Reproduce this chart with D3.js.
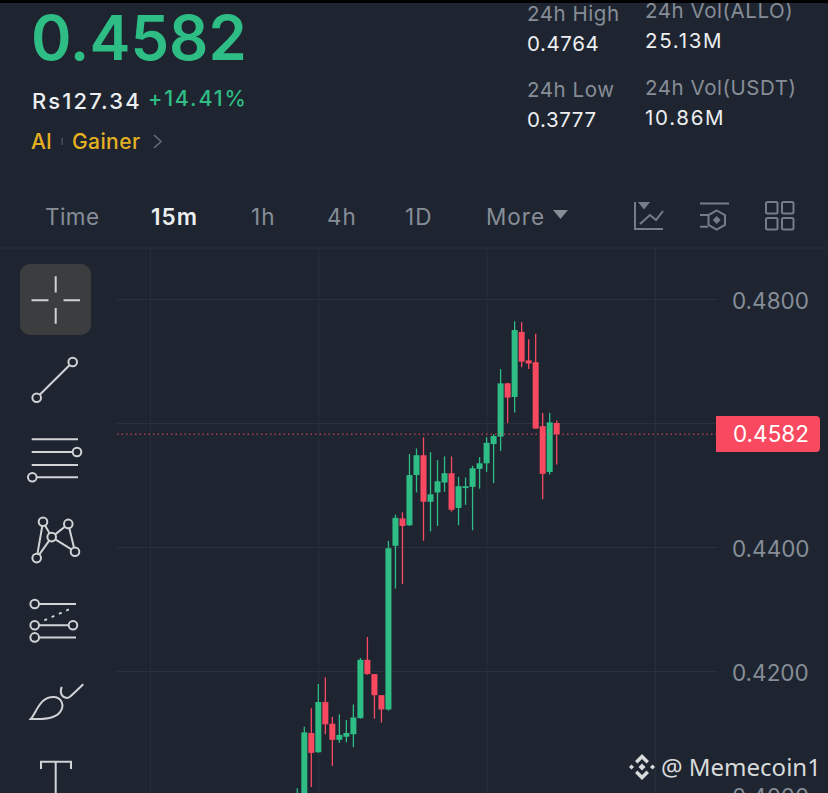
<!DOCTYPE html>
<html>
<head>
<meta charset="utf-8">
<script src="https://cdn.jsdelivr.net/npm/d3@7"></script>
<style>
html, body { margin: 0; padding: 0; background: #1e2530; overflow: hidden; }
svg { display: block; }
text { font-family: Inter, "Noto Sans", sans-serif; }
</style>
</head>
<body>
<svg id="chart" width="828" height="793"></svg>
<script>
// candle values, oldest first
var opens  = [0.3984,0.3992,0.4100,0.4069,0.4150,0.4115,0.4089,0.4094,0.4098,0.4124,0.4218,0.4195,0.4161,0.4138,0.4402,0.4446,0.4435,0.4516,0.4548,0.4473,0.4488,0.4504,0.4519,0.4463,0.4495,0.4497,0.4526,0.4535,0.4566,0.4578,0.4664,0.4642,0.4747,0.4701,0.4698,0.4595,0.4521,0.4600];
var highs  = [0.4011,0.4110,0.4140,0.4179,0.4190,0.4126,0.4130,0.4121,0.4146,0.4221,0.4255,0.4195,0.4161,0.4410,0.4452,0.4456,0.4550,0.4559,0.4577,0.4553,0.4540,0.4546,0.4546,0.4513,0.4512,0.4531,0.4545,0.4577,0.4582,0.4687,0.4665,0.4764,0.4763,0.4735,0.4744,0.4616,0.4616,0.4604];
var lows   = [0.3976,0.3984,0.4013,0.4068,0.4098,0.4047,0.4084,0.4085,0.4077,0.4123,0.4194,0.4123,0.4117,0.4136,0.4333,0.4340,0.4434,0.4488,0.4410,0.4425,0.4434,0.4489,0.4457,0.4435,0.4468,0.4427,0.4494,0.4521,0.4503,0.4555,0.4600,0.4617,0.4690,0.4687,0.4591,0.4477,0.4517,0.4533];
var closes = [0.3998,0.4101,0.4068,0.4150,0.4114,0.4089,0.4097,0.4100,0.4125,0.4218,0.4195,0.4161,0.4138,0.4398,0.4447,0.4434,0.4516,0.4548,0.4473,0.4485,0.4506,0.4519,0.4460,0.4498,0.4498,0.4527,0.4535,0.4568,0.4579,0.4664,0.4641,0.4750,0.4699,0.4696,0.4591,0.4518,0.4601,0.4582];
var priceTicks = [0.48, 0.46, 0.44, 0.42, 0.40];
var timeGrid = [-21, 3, 27, 51]; // candle index of the vertical grid lines
var lastPrice = 0.4582;
var tabs = ["Time", "15m", "1h", "4h", "1D", "More"];
var tabX = [45, 151, 251, 327, 405, 486];
var statLabels = ["24h High", "24h Vol(ALLO)", "24h Low", "24h Vol(USDT)"];
var statValues = ["0.4764", "25.13M", "0.3777", "10.86M"];

var GREEN = "#2ebd85", RED = "#f84960", GREY = "#868d97", GRID = "#2a313c", ICON = "#d0d2d5", ICON2 = "#767d88";

var svg = d3.select("#chart");
var x = d3.scaleLinear().domain([0, closes.length - 1]).range([297.3, 556.7]);
var y = d3.scaleLinear().domain([0.40, 0.48]).range([795, 299]);

function label(txt, px, py, size, color, weight, spacing) {
  return svg.append("text").attr("x", px).attr("y", py)
    .attr("font-size", size).attr("fill", color)
    .attr("font-weight", weight || 400)
    .attr("letter-spacing", spacing || 0).text(txt);
}

// header
label("0.4582", 31, 60, 61.5, GREEN, 600);
label("Rs127.34", 32, 109, 22, "#eceef0", 500, 2.1);
label("+14.41%", 148, 106, 21.5, GREEN, 500, 1.8);
label("AI", 31, 149, 21, "#e5b021", 500);
svg.append("rect").attr("x", 61.5).attr("y", 138).attr("width", 1.5).attr("height", 7).attr("fill", "#4a505a");
label("Gainer", 72, 149, 21, "#e5b021", 500, 0.4);
svg.append("path").attr("d", "M154,135L161,141.5L154,148").attr("fill", "none").attr("stroke", "#666c76").attr("stroke-width", 1.6);

var statX = [527, 645, 527, 645];
var statY = [21, 18, 97, 95];
statLabels.forEach(function(s, i) {
  label(s, statX[i], statY[i], 20.5, GREY, 400, 0.55);
  label(statValues[i], statX[i], statY[i] + 30, 20.5, "#eceef0", 400, i % 2 ? 1.7 : 0.6);
});
svg.append("rect").attr("width", 828).attr("height", 3).attr("fill", "#000");

// interval tabs
tabs.forEach(function(t, i) {
  label(t, tabX[i], 225, 22.5, i == 1 ? "#eceef0" : GREY, i == 1 ? 600 : 400, i == 0 ? 0.4 : 1);
});
svg.append("path").attr("d", "M553,210H568L560.5,219Z").attr("fill", GREY);
svg.append("line").attr("x1", 0).attr("x2", 828).attr("y1", 248).attr("y2", 248).attr("stroke", GRID);

// top right icons
var topIcons = svg.append("g").attr("fill", "none").attr("stroke", ICON2).attr("stroke-width", 2);
topIcons.append("path").attr("d", "M635,202V229H663");
topIcons.append("path").attr("d", "M640,224L650,215L656,220L663,211");
topIcons.append("path").attr("d", "M640,203H648L644,208Z").attr("fill", ICON2);
topIcons.append("path").attr("d", "M700,203.5H729M700,215H708M700,226.7H708");
topIcons.append("path").attr("d", "M716.7,210.5L725,215.2V224.8L716.7,229.5L708.5,224.8V215.2Z");
topIcons.append("path").attr("d", "M716.7,217.5L719.2,220L716.7,222.5L714.2,220Z").attr("fill", ICON2);
[[766, 202], [782, 202], [766, 218], [782, 218]].forEach(function(p) {
  topIcons.append("rect").attr("x", p[0]).attr("y", p[1]).attr("width", 11.5).attr("height", 11.5).attr("rx", 1.5);
});

// grid
svg.append("g").attr("transform", "translate(0,248)")
  .call(d3.axisBottom(x).tickValues(timeGrid).tickSize(545).tickFormat(""))
  .call(function(g) { g.select(".domain").remove(); })
  .selectAll("line").attr("stroke", GRID);

var yAxis = svg.append("g").attr("transform", "translate(117,0)")
  .call(d3.axisRight(y).tickValues(priceTicks).tickSize(600).tickPadding(15).tickFormat(d3.format(".4f")));
yAxis.select(".domain").remove();
yAxis.selectAll("line").attr("stroke", GRID);
yAxis.selectAll("text").attr("fill", GREY).attr("font-size", 22.5).attr("font-family", "Inter, sans-serif").attr("dy", "0.4em");

// candles
var candles = svg.append("g").selectAll("g").data(closes).join("g");
candles.append("line")
  .attr("x1", function(d, i) { return x(i); })
  .attr("x2", function(d, i) { return x(i); })
  .attr("y1", function(d, i) { return y(highs[i]); })
  .attr("y2", function(d, i) { return y(lows[i]); })
  .attr("stroke-width", 1.3)
  .attr("stroke", function(d, i) { return d >= opens[i] ? GREEN : RED; });
candles.append("rect")
  .attr("x", function(d, i) { return x(i) - 3; })
  .attr("width", 6)
  .attr("y", function(d, i) { return y(Math.max(d, opens[i])); })
  .attr("height", function(d, i) { return Math.max(1, Math.abs(y(d) - y(opens[i]))); })
  .attr("fill", function(d, i) { return d >= opens[i] ? GREEN : RED; });

// last price line and tag
svg.append("line").attr("x1", 117).attr("x2", 716).attr("y1", y(lastPrice)).attr("y2", y(lastPrice))
  .attr("stroke", RED).attr("stroke-width", 1).attr("stroke-dasharray", "1.5 3");
svg.append("path").attr("d", "M716,416H816a4,4 0 0 1 4,4V448a4,4 0 0 1 -4,4H716Z").attr("fill", RED);
label(d3.format(".4f")(lastPrice), 733, 442, 22.5, "#fff");

// drawing tools
svg.append("rect").attr("x", 20).attr("y", 264).attr("width", 71).attr("height", 71).attr("rx", 10).attr("fill", "#3c3d3f");
var tools = svg.append("g").attr("fill", "none").attr("stroke", ICON).attr("stroke-width", 2);
tools.append("path").attr("d", "M55.7,276.3V292.6M55.7,308V323.8M31.5,300.3H48.5M63.5,300.3H80");
function dot(cx, cy) {
  tools.append("circle").attr("cx", cx).attr("cy", cy).attr("r", 4.3).attr("fill", "#1e2530");
}
tools.append("path").attr("d", "M36.7,397.7L72.7,362");
dot(72.7, 362); dot(36.7, 397.7);
tools.append("path").attr("d", "M31.7,439.2H78M31.7,452H73M31.7,465H78M37,477.3H78");
dot(77, 452); dot(32.3, 477.3);
tools.append("path").attr("d", "M43,521.8L36.7,558.1L51.7,537.1L43,521.8M51.7,537.1L68.3,523.9L75,551.7L51.7,537.1");
dot(43, 521.8); dot(68.3, 523.9); dot(51.7, 537.1); dot(75, 551.7); dot(36.7, 558.1);
tools.append("path").attr("d", "M34.7,604H76M34.7,625.2H73M34.7,637.4H76");
tools.append("path").attr("d", "M44.3,620.4L71.7,608.1").attr("stroke-dasharray", "3 5");
dot(34.7, 604); dot(34.7, 625.2); dot(73, 625.2); dot(34.7, 637.4);
tools.append("path").attr("d", "M30.7,719C36.7,712 40,696.9 53.3,696.9C61.7,696.9 65,705.5 60,712.2C55,719 43.3,719 30.7,719Z");
tools.append("path").attr("d", "M61.7,686.9C59.5,692.5 61.5,697.5 67,698.1C69,698.1 70,697 83.3,684.3");
tools.append("path").attr("d", "M41,769V761.8H71V769M55.7,761.8V793");

// watermark
var mark = svg.append("g").attr("transform", "translate(642,767)").attr("fill", "#d9dadb");
mark.append("path").attr("d", "M0,-13L7,-6L4.5,-3.5L0,-8L-4.5,-3.5L-7,-6Z");
mark.append("path").attr("d", "M0,13L7,6L4.5,3.5L0,8L-4.5,3.5L-7,6Z");
mark.append("path").attr("d", "M0,-3.5L3.5,0L0,3.5L-3.5,0Z");
mark.append("path").attr("d", "M-13,0L-10.5,-2.5L-8,0L-10.5,2.5Z");
mark.append("path").attr("d", "M13,0L10.5,-2.5L8,0L10.5,2.5Z");
svg.append("text").attr("x", 661).attr("y", 776).attr("font-size", 24)
  .attr("fill", "#d9dadb").style("font-family", "'Noto Sans', sans-serif").text("@ Memecoin1");
</script>
</body>
</html>
